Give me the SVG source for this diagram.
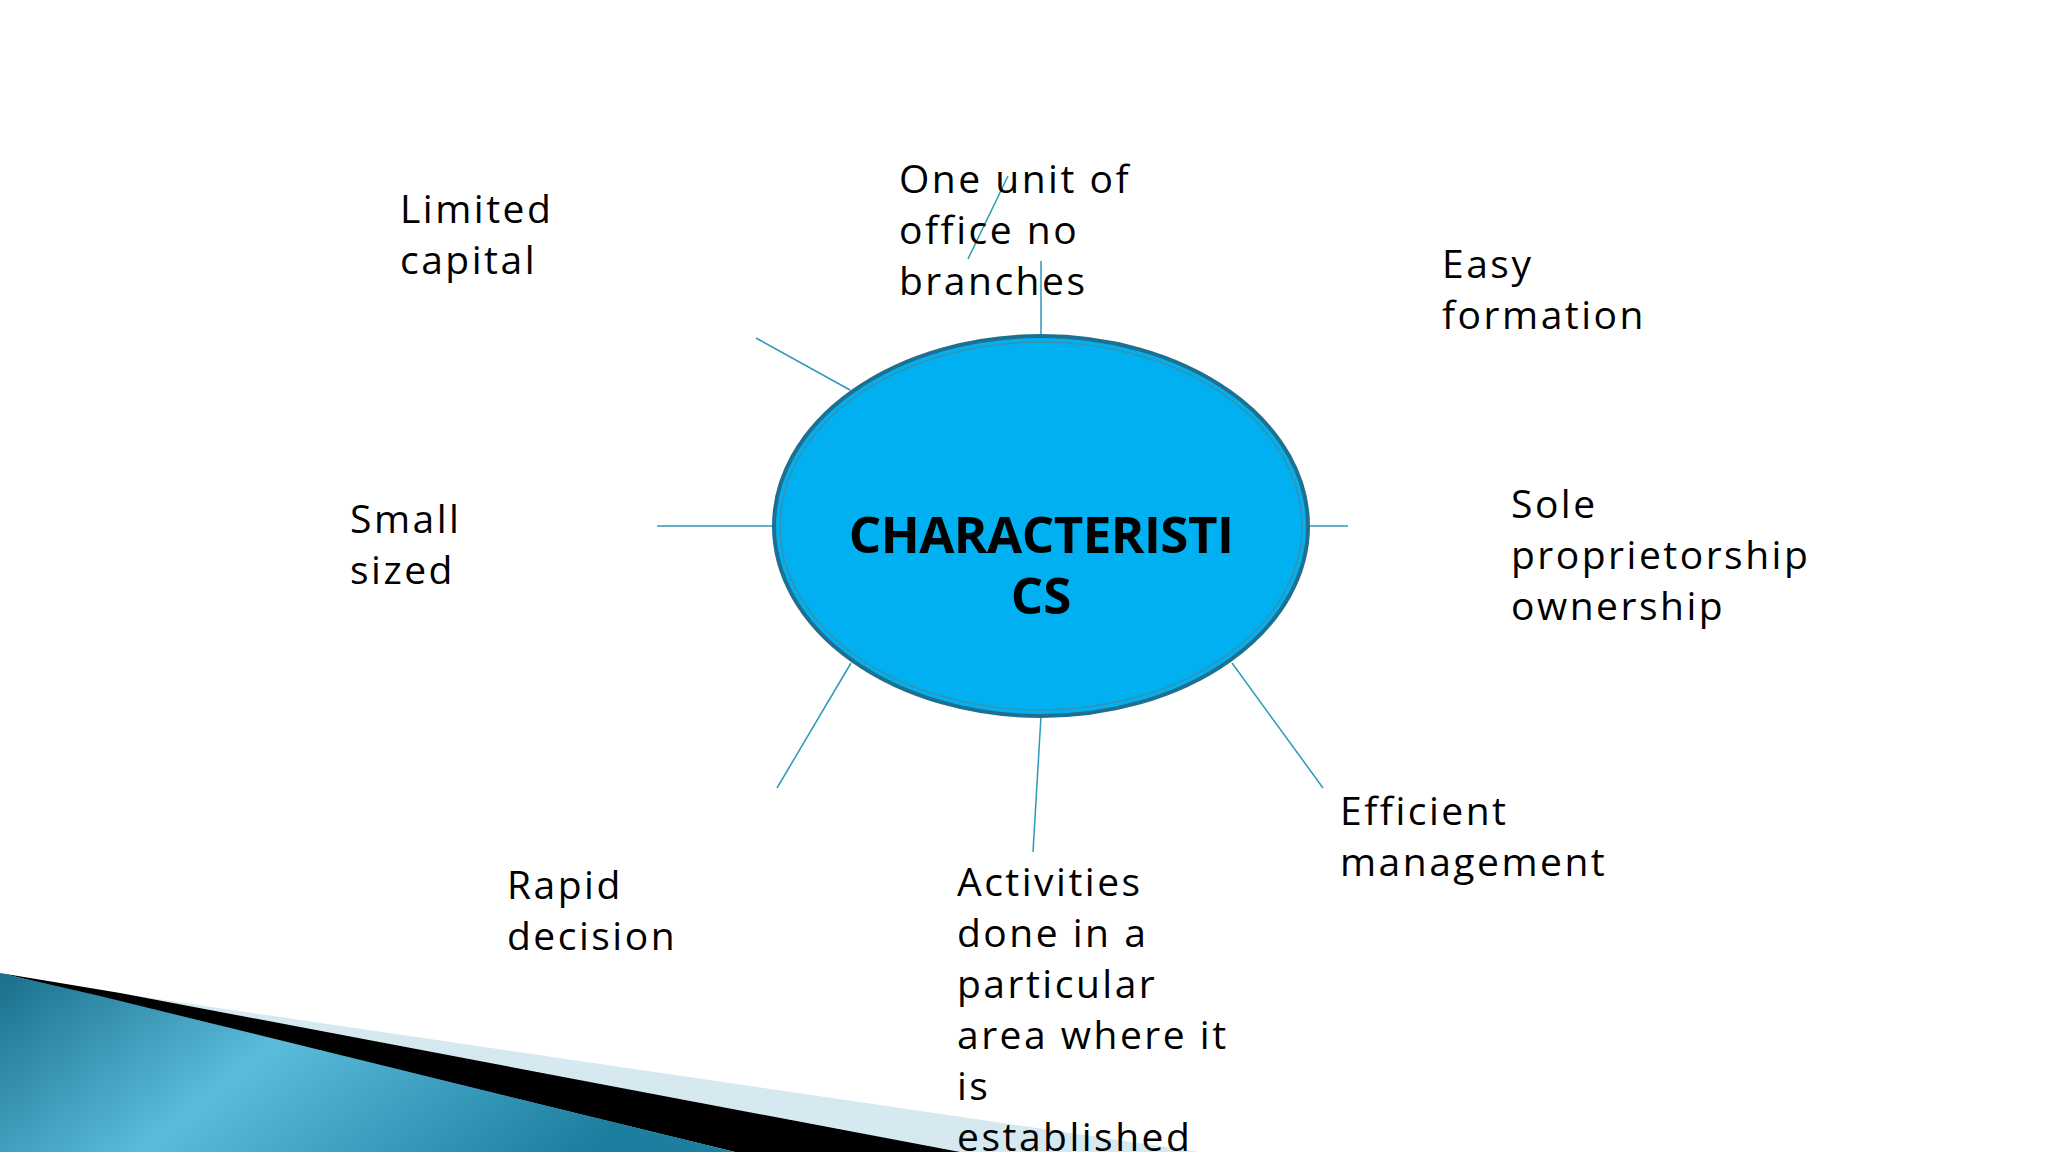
<svg xmlns="http://www.w3.org/2000/svg" width="2048" height="1152" viewBox="0 0 2048 1152">
<style>
.l{font-family:"Open Sans","Liberation Sans",sans-serif;font-size:39px;fill:#000;letter-spacing:2.5px}
.c{stroke:#2a9ab8;stroke-width:1.5;fill:none}
</style>
<defs>
<linearGradient id="tg" x1="0" y1="0" x2="1" y2="0.3">
<stop offset="0" stop-color="#1a6f8a"/><stop offset="0.45" stop-color="#5bbcdc"/><stop offset="1" stop-color="#1d7fa0"/>
</linearGradient>
</defs>
<rect width="2048" height="1152" fill="#fff"/>
<g id="decor">
<polygon points="110,992 1200,1152 940,1152" fill="#d6e9f1"/>
<polygon points="0,973 120,993 960,1152 735,1152" fill="#000"/>
<polygon points="0,973 100,996 735,1152 0,1152" fill="url(#tg)"/>
</g>
<g id="connectors">
<line class="c" x1="1041" y1="261" x2="1041" y2="337"/>
<line class="c" x1="1008" y1="176" x2="968" y2="259"/>
<line class="c" x1="756" y1="338" x2="850" y2="390"/>
<line class="c" x1="657" y1="526" x2="773" y2="526"/>
<line class="c" x1="1309" y1="526" x2="1348" y2="526"/>
<line class="c" x1="851" y1="663" x2="777" y2="788"/>
<line class="c" x1="1041" y1="716" x2="1033" y2="852"/>
<line class="c" x1="1232" y1="663" x2="1323" y2="788"/>
</g>
<g id="center">
<ellipse cx="1041" cy="526" rx="267" ry="190" fill="#00b0f0" stroke="#1f6f8f" stroke-width="4"/>
<ellipse cx="1041" cy="526" rx="261" ry="184" fill="none" stroke="#3a90b0" stroke-width="1.5"/>
<text x="1041" y="553" text-anchor="middle" font-family="Open Sans,Liberation Sans,sans-serif" font-size="51" font-weight="700" letter-spacing="-0.5" fill="#000">CHARACTERISTI</text>
<text x="1041" y="614" text-anchor="middle" font-family="Open Sans,Liberation Sans,sans-serif" font-size="51" font-weight="700" fill="#000">CS</text>
</g>
<g id="n1"><text class="l" x="400" y="223">Limited</text><text class="l" x="400" y="274">capital</text></g>
<g id="n2"><text class="l" x="899" y="193">One unit of</text><text class="l" x="899" y="244">office no</text><text class="l" x="899" y="295">branches</text></g>
<g id="n3"><text class="l" x="1442" y="278">Easy</text><text class="l" x="1442" y="329">formation</text></g>
<g id="n4"><text class="l" x="1511" y="518">Sole</text><text class="l" x="1511" y="569">proprietorship</text><text class="l" x="1511" y="620">ownership</text></g>
<g id="n5"><text class="l" x="350" y="533">Small</text><text class="l" x="350" y="584">sized</text></g>
<g id="n6"><text class="l" x="1340" y="825">Efficient</text><text class="l" x="1340" y="876">management</text></g>
<g id="n7"><text class="l" x="507" y="899">Rapid</text><text class="l" x="507" y="950">decision</text></g>
<g id="n8"><text class="l" x="957" y="896">Activities</text><text class="l" x="957" y="947">done in a</text><text class="l" x="957" y="998">particular</text><text class="l" x="957" y="1049">area where it</text><text class="l" x="957" y="1100">is</text><text class="l" x="957" y="1151">established</text></g>
</svg>
